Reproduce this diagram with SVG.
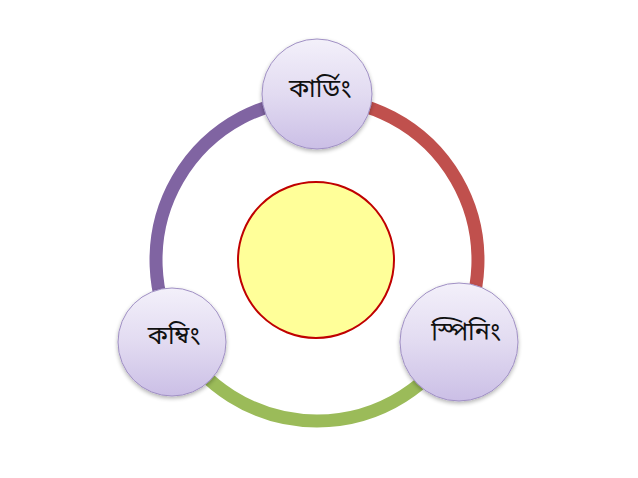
<svg xmlns="http://www.w3.org/2000/svg" width="638" height="478" viewBox="0 0 638 478">
  <defs>
    <linearGradient id="nodeFill" x1="0" y1="0" x2="0" y2="1">
      <stop offset="0" stop-color="#F3F0FA"/>
      <stop offset="0.5" stop-color="#E2DBF1"/>
      <stop offset="1" stop-color="#CBBFE6"/>
    </linearGradient>
    <filter id="shadow" x="-20%" y="-20%" width="140%" height="140%">
      <feGaussianBlur in="SourceAlpha" stdDeviation="2"/>
      <feOffset dx="0" dy="2" result="b"/>
      <feComponentTransfer><feFuncA type="linear" slope="0.3"/></feComponentTransfer>
      <feMerge><feMergeNode/><feMergeNode in="SourceGraphic"/></feMerge>
    </filter>
  </defs>
  <style>
    .arc { fill: none; stroke-width: 13; }
    .node { fill: url(#nodeFill); stroke: #A090C4; stroke-width: 1; filter: url(#shadow); }
    .label { font-family: "Noto Sans Bengali", "Noto Sans", "Lohit Bengali", sans-serif; font-size: 25px; font-weight: 400; fill: #111; text-anchor: middle; dominant-baseline: central; }
  </style>
  <rect width="638" height="478" fill="#FFFFFF"/>
  <g id="connectors">
    <path class="arc" stroke="#C0504D" d="M 317 99 A 161 161 0 0 1 456.4 340.5"/>
    <path class="arc" stroke="#9BBB59" d="M 456.4 340.5 A 161 161 0 0 1 177.6 340.5"/>
    <path class="arc" stroke="#8064A2" d="M 177.6 340.5 A 161 161 0 0 1 317 99"/>
  </g>
  <g id="center">
    <circle cx="316" cy="260" r="78" fill="#FFFF99" stroke="#C00000" stroke-width="2"/>
  </g>
  <g id="node-carding">
    <circle class="node" cx="317" cy="94" r="55"/>
    <text class="label" x="320" y="90">কার্ডিং</text>
  </g>
  <g id="node-spinning">
    <circle class="node" cx="459" cy="342" r="59"/>
    <text class="label" x="466" y="333">স্পিনিং</text>
  </g>
  <g id="node-combing">
    <circle class="node" cx="172" cy="342" r="54"/>
    <text class="label" x="174" y="337">কম্বিং</text>
  </g>
</svg>
